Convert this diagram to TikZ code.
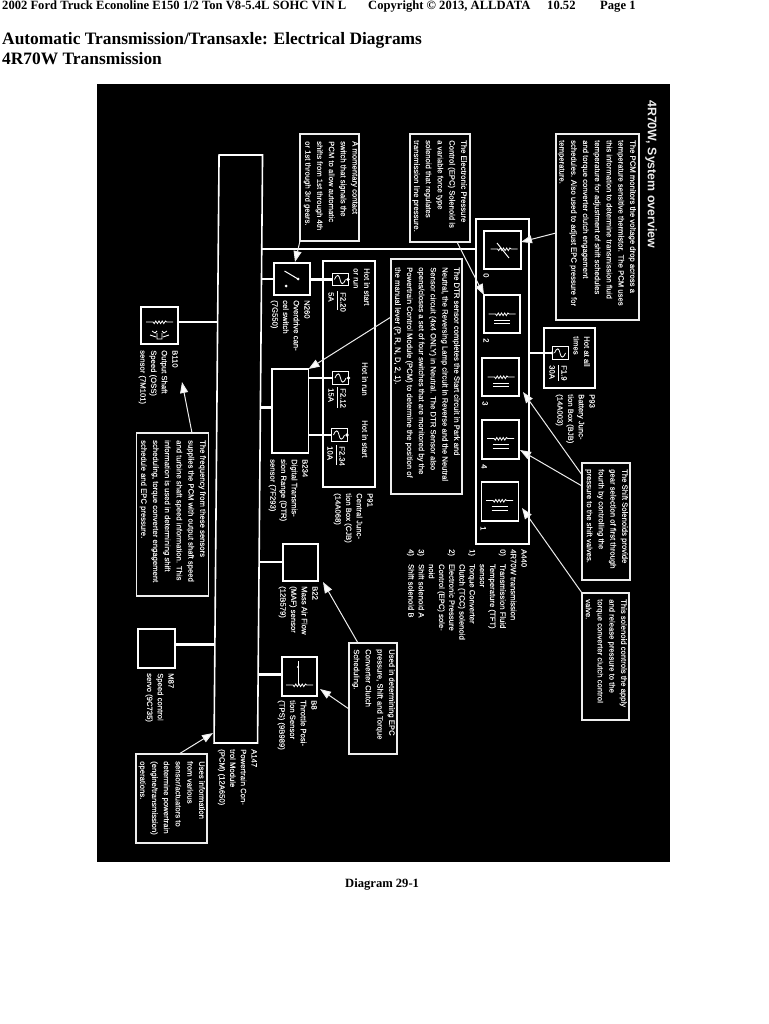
\documentclass[tikz,border=0pt]{standalone}
\usepackage{fontspec}
\setmainfont{Liberation Serif}
\setsansfont{Liberation Sans}
\newfontfamily\scanfont[FakeBold=0.35]{Liberation Sans}
\usetikzlibrary{arrows.meta,calc}
\definecolor{ink}{gray}{0.93}
\tikzset{
  wire/.style={draw=white,line width=2.8pt},
  frm/.style={draw=white,line width=1.6pt,inner sep=0pt,outer sep=0pt,anchor=north west},
  cbx/.style={draw=ink,line width=1.1pt,inner sep=0pt,outer sep=0pt,anchor=north west},
  fus/.style={draw=white,line width=0.9pt,inner sep=0pt,outer sep=0pt,minimum width=16pt,minimum height=12.5pt},
  lbl/.style={rotate=-90,anchor=north west,align=left,inner sep=0pt,text=ink,font=\scanfont\fontsize{7.7}{10.7}\selectfont},
  cll/.style={lbl,font=\scanfont\fontsize{7.7}{11.8}\selectfont},
  fnt/.style={lbl,font=\scanfont\fontsize{7.7}{12}\selectfont},
  arr/.style={draw=ink,line width=1pt,-{Triangle[length=11pt,width=8pt,fill=white]}},
  sym/.style={draw=white,line width=0.8pt},
  hdr/.style={anchor=base west,inner sep=0pt,text=black,font=\rmfamily\bfseries\fontsize{12.6}{14}\selectfont},
  ttl/.style={hdr,font=\rmfamily\bfseries\fontsize{17.4}{19}\selectfont},
}
\newcommand{\coilsym}[2]{%
  \draw[sym] (#1-13.5,#2) -- ++(7,0) -- ++(1.2,1.6) -- ++(1.6,-2.6) -- ++(1.6,2.6) -- ++(1.6,-2.6) -- ++(1.6,2.6) -- ++(1.6,-2.6) -- ++(1.6,2.6) -- ++(1.6,-2.6) -- ++(1.2,1) -- (#1+13.5,#2);}
\newcommand{\solsym}[2]{%
  \coilsym{#1}{#2}
  \draw[sym] (#1-8,#2+6) -- (#1+8,#2+6);
  \draw[sym] (#1-8,#2+9.5) -- (#1+8,#2+9.5);}
\newcommand{\fusesym}[3]{%
  \node[fus] (#1) at (#2,#3) {};
  \draw[sym] (#2-5.5,#3) .. controls (#2-3,#3-6) and (#2-1,#3-5) .. (#2,#3) .. controls (#2+1,#3+5) and (#2+3,#3+6) .. (#2+5.5,#3);}
\begin{document}
\begin{tikzpicture}[x=1pt,y=-1pt]
\useasboundingbox (0,0) rectangle (768,1024);
\fill[white] (0,0) rectangle (768,1024);
\fill[black] (97,84) rectangle (670,862);
% header
\node[hdr] (h1) at (2,10) {2002 Ford Truck Econoline E150 1/2 Ton V8-5.4L SOHC VIN L};
\node[hdr] (h2) at (368,10) {Copyright © 2013, ALLDATA};
\node[hdr] (h3) at (547,10) {10.52};
\node[hdr] (h4) at (600,10) {Page 1};
\node[ttl] (t1) at (2,45) {Automatic Transmission/Transaxle: Electrical Diagrams};
\node[ttl] (t2) at (2,65) {4R70W Transmission};
\node[hdr] (cap) at (345,887) {Diagram 29-1};
% PCM module
\begin{scope}[shift={(238.3,449)}]
\node[draw=white,line width=1.6pt,inner sep=0pt,outer sep=0pt,minimum width=43.5pt,minimum height=588pt,xslant=0.0085,transform shape] (pcm) at (0,0) {};
\end{scope}
\node[lbl,font=\sffamily\bfseries\fontsize{12.4}{14}\selectfont] (ttlb) at (657,100) {4R70W, System overview};
% callout boxes
\node[cbx,minimum width=83pt,minimum height=186pt] (cPCM) at (556,134) {};
\node[cll] (tPCM) at (636,140) {The PCM monitors the voltage drop across a\\temperature sensitive thermistor. The PCM uses\\this information to determine transmission fluid\\temperature for adjustment of shift schedules\\and torque converter clutch engagement\\schedules. Also used to adjust EPC pressure for\\temperature.};
\node[cbx,minimum width=60pt,minimum height=108pt] (cEPC) at (410,134) {};
\node[cll] (tEPC) at (467,140) {The Electronic Pressure\\Control (EPC) Solenoid is\\a variable force type\\solenoid that regulates\\transmission line pressure.};
\node[cbx,minimum width=59pt,minimum height=107pt] (cOD) at (300,134) {};
\node[cll] (tOD) at (358,141) {A momentary contact\\switch that signals the\\PCM to allow automatic\\shifts from 1st through 4th\\or 1st through 3rd gears.};
\node[cbx,minimum width=71pt,minimum height=235pt] (cDTR) at (391,259) {};
\node[cll] (tDTR) at (460,267) {The DTR sensor completes the Start circuit in Park and\\Neutral, the Reversing Lamp circuit in Reverse and the Neutral\\Sensor circuit (4x4 ONLY) in Neutral. The DTR Sensor also\\opens/closes a set of four switches that are monitored by the\\Powertrain Control Module (PCM) to determine the position of\\the manual lever (P, R, N, D, 2, 1).};
\node[cbx,minimum width=48pt,minimum height=117pt] (cSS) at (582,463) {};
\node[cll] (tSS) at (628,469) {The Shift Solenoids provide\\gear selection of first through\\fourth by controlling the\\pressure to the shift valves.};
\node[cbx,minimum width=47pt,minimum height=127pt] (cTCC) at (582,593) {};
\node[cll] (tTCC) at (627,599) {This solenoid controls the apply\\and release pressure to the\\torque converter clutch control\\valve.};
\node[cbx,minimum width=72pt,minimum height=163pt] (cFR) at (136.5,433) {};
\node[cll] (tFR) at (206,440) {The frequency from these sensors\\supplies the PCM with output shaft speed\\and turbine shaft speed information. This\\information is used in determining shift\\scheduling, torque converter engagement\\schedule and EPC pressure.};
\node[cbx,minimum width=48pt,minimum height=111pt] (cUS) at (349,643) {};
\node[cll] (tUS) at (395,649) {Used in determining EPC\\pressure, Shift and Torque\\Converter Clutch\\Scheduling.};
\node[cbx,minimum width=71pt,minimum height=89pt] (cUI) at (136,754) {};
\node[cll] (tUI) at (205,761) {Uses information\\from various\\sensor/actuators to\\determine powertrain\\(engine/transmission)\\operations.};
% A440 and solenoids
\node[frm,minimum width=53pt,minimum height=325pt] (a440) at (476,219) {};
\node[frm,minimum width=37pt,minimum height=38pt] (s0) at (484,231) {};
\node[frm,minimum width=36pt,minimum height=38pt] (s2) at (484,295) {};
\node[frm,minimum width=37pt,minimum height=38pt] (s3) at (482,358) {};
\node[frm,minimum width=37pt,minimum height=39pt] (s4) at (482,420) {};
\node[frm,minimum width=37pt,minimum height=39pt] (s1) at (481.5,482) {};
\coilsym{504}{249}
\draw[sym,line width=1pt] (497,243) -- (509,258);
\solsym{502}{314}
\solsym{501}{377}
\solsym{500.5}{438.5}
\solsym{499.5}{500.5}
\node[lbl] (n0) at (489,273) {0};
\node[lbl] (n2) at (489,338) {2};
\node[lbl] (n3) at (488,401) {3};
\node[lbl] (n4) at (487,464) {4};
\node[lbl] (n1) at (486,526) {1};
\node[lbl] (la440) at (527,549) {A440\\4R70W transmission};
\node[lbl,font=\scanfont\fontsize{7.7}{10.2}\selectfont] (la0) at (506,549) {0)\hspace{8pt}Transmission Fluid\\\hphantom{0)}\hspace{8pt}Temperature (TFT)\\\hphantom{0)}\hspace{8pt}sensor\\1)\hspace{8pt}Torque Converter\\\hphantom{0)}\hspace{8pt}Clutch (TCC) solenoid\\2)\hspace{8pt}Electronic Pressure\\\hphantom{0)}\hspace{8pt}Control (EPC) sole-\\\hphantom{0)}\hspace{8pt}noid\\3)\hspace{8pt}Shift solenoid A\\4)\hspace{8pt}Shift solenoid B};
% P93
\node[frm,minimum width=51pt,minimum height=60pt] (p93) at (544,328) {};
\node[lbl] (hot1) at (590,336) {Hot at all\\times};
\fusesym{f19}{560}{353}
\fill[white] (f19.west) circle (1.6pt);
\draw[wire] (f19.west) -- (f19.west -| a440.east);
\node[fnt] (lf19) at (567,365) {F1.9\\30A};
\draw[sym] (558,365) -- (558,381);
\node[lbl] (lp93) at (595,394) {P93\\Battery Junc-\\tion Box (BJB)\\(14A003)};
% P91
\node[frm,minimum width=52pt,minimum height=226pt] (p91) at (323,261) {};
\node[lbl] (hr1) at (370,268) {Hot in start\\or run};
\node[lbl] (hr2) at (368,362) {Hot in run};
\node[lbl] (hr3) at (368,420) {Hot in start};
\fusesym{f220}{340}{279.5}
\fusesym{f212}{340.5}{378}
\fusesym{f234}{339}{435}
\fill[white] (f220.east) circle (1.8pt) (f212.east) circle (1.8pt) (f234.east) circle (1.8pt);
\node[fnt] (lf220) at (346,292) {F2.20\\5A};
\node[fnt] (lf212) at (346,388) {F2.12\\15A};
\node[fnt] (lf234) at (345,446) {F2.34\\10A};
\draw[sym] (337.5,291) -- (337.5,310) (337.5,387) -- (337.5,408) (336.5,445) -- (336.5,465);
\node[lbl] (lp91) at (373,493) {P91\\Central Junc-\\tion Box (CJB)\\(14A068)};
% N260
\node[frm,minimum width=36pt,minimum height=32pt] (n260) at (274,263) {};
\draw[sym,line width=1pt] (298,279) -- (284.5,271);
\fill[white] (298,279) circle (1.5pt) (286,286) circle (1.5pt);
\node[lbl] (ln260) at (310,300) {N260\\Overdrive can-\\cel switch\\(7G550)};
% DTR
\node[frm,minimum width=36.5pt,minimum height=84pt] (dtr) at (272,369) {};
\node[lbl] (ldtr) at (308,459) {B234\\Digital Transmis-\\sion Range (DTR)\\sensor (7F293)};
% MAF
\node[frm,minimum width=35pt,minimum height=37pt] (maf) at (283,544) {};
\node[lbl] (lmaf) at (318,586) {B22\\Mass Air Flow\\(MAF) sensor\\(12B579)};
% TPS
\node[frm,minimum width=35pt,minimum height=39pt] (tps) at (282,657) {};
\coilsym{299.5}{685}
\draw[sym] (298,661) -- (298,684);
\fill[white] (298,667) circle (1.2pt);
\node[lbl] (ltps) at (317,700) {B8\\Throttle Posi-\\tion Sensor\\(TPS) (9B989)};
% M87
\node[frm,minimum width=37pt,minimum height=39pt] (m87) at (138,629) {};
\node[lbl] (lm87) at (174,673) {M87\\Speed control\\servo (9C735)};
% B110
\node[frm,minimum width=37pt,minimum height=37pt] (oss) at (141,307) {};
\coilsym{159.5}{322}
\draw[sym] (152,331) -- (155,333) -- (157,331) (167,331) -- (164,333) -- (162,331);
\draw[sym] (157,333) -- (157,339) -- (162,339) -- (162,333) (150,335) -- (156,337) (169,335) -- (163,337);
\node[lbl] (loss) at (178,350) {B110\\Output Shaft\\Speed (OSS)\\sensor (7M101)};
\node[lbl] (lpcm) at (257,749) {A147\\Powertrain Con-\\trol Module\\(PCM) (12A650)};
% wires
\coordinate (p1) at ($(pcm.north east)!0.160!(pcm.south east)$);
\coordinate (p2) at ($(pcm.north east)!0.211!(pcm.south east)$);
\coordinate (p3) at ($(pcm.north east)!0.430!(pcm.south east)$);
\coordinate (p4) at ($(pcm.north east)!0.692!(pcm.south east)$);
\coordinate (p5) at ($(pcm.north east)!0.884!(pcm.south east)$);
\coordinate (q1) at ($(pcm.north west)!0.284!(pcm.south west)$);
\coordinate (q2) at ($(pcm.north west)!0.832!(pcm.south west)$);
\draw[wire] (p1) -- (p1 -| a440.west);
\draw[wire] (p2) -- (p2 -| n260.west);
\draw[wire] (n260.east |- f220.west) -- (f220.west);
\draw[wire] (p3) -- (p3 -| dtr.west);
\draw[wire] (dtr.east |- f212.west) -- (f212.west);
\draw[wire] (dtr.east |- f234.west) -- (f234.west);
\draw[wire] (p4) -- (p4 -| maf.west);
\draw[wire] (p5) -- (p5 -| tps.west);
\draw[wire] (q1) -- (q1 -| oss.east);
\draw[wire] (q2) -- (q2 -| m87.east);
% arrows
\draw[arr] (cPCM.west |- 0,233) -- (s0.east |- 0,242);
\draw[arr] (457,242) -- (s2.north west);
\draw[arr] (cOD.south west) -- (295,262);
\draw[arr] (cDTR.west |- 0,317) -- (dtr.north east);
\draw[arr] (cSS.west |- 0,475) -- (523,392);
\draw[arr] (cSS.west |- 0,486) -- (520,450);
\draw[arr] (cTCC.north west) -- (522,508);
\draw[arr] (192,433) -- (182,382);
\draw[arr] (358,643) -- (323,582);
\draw[arr] (cUS.west |- 0,709) -- (320,689);
\draw[arr] (179,754) -- (213,733);
\end{tikzpicture}
\end{document}
